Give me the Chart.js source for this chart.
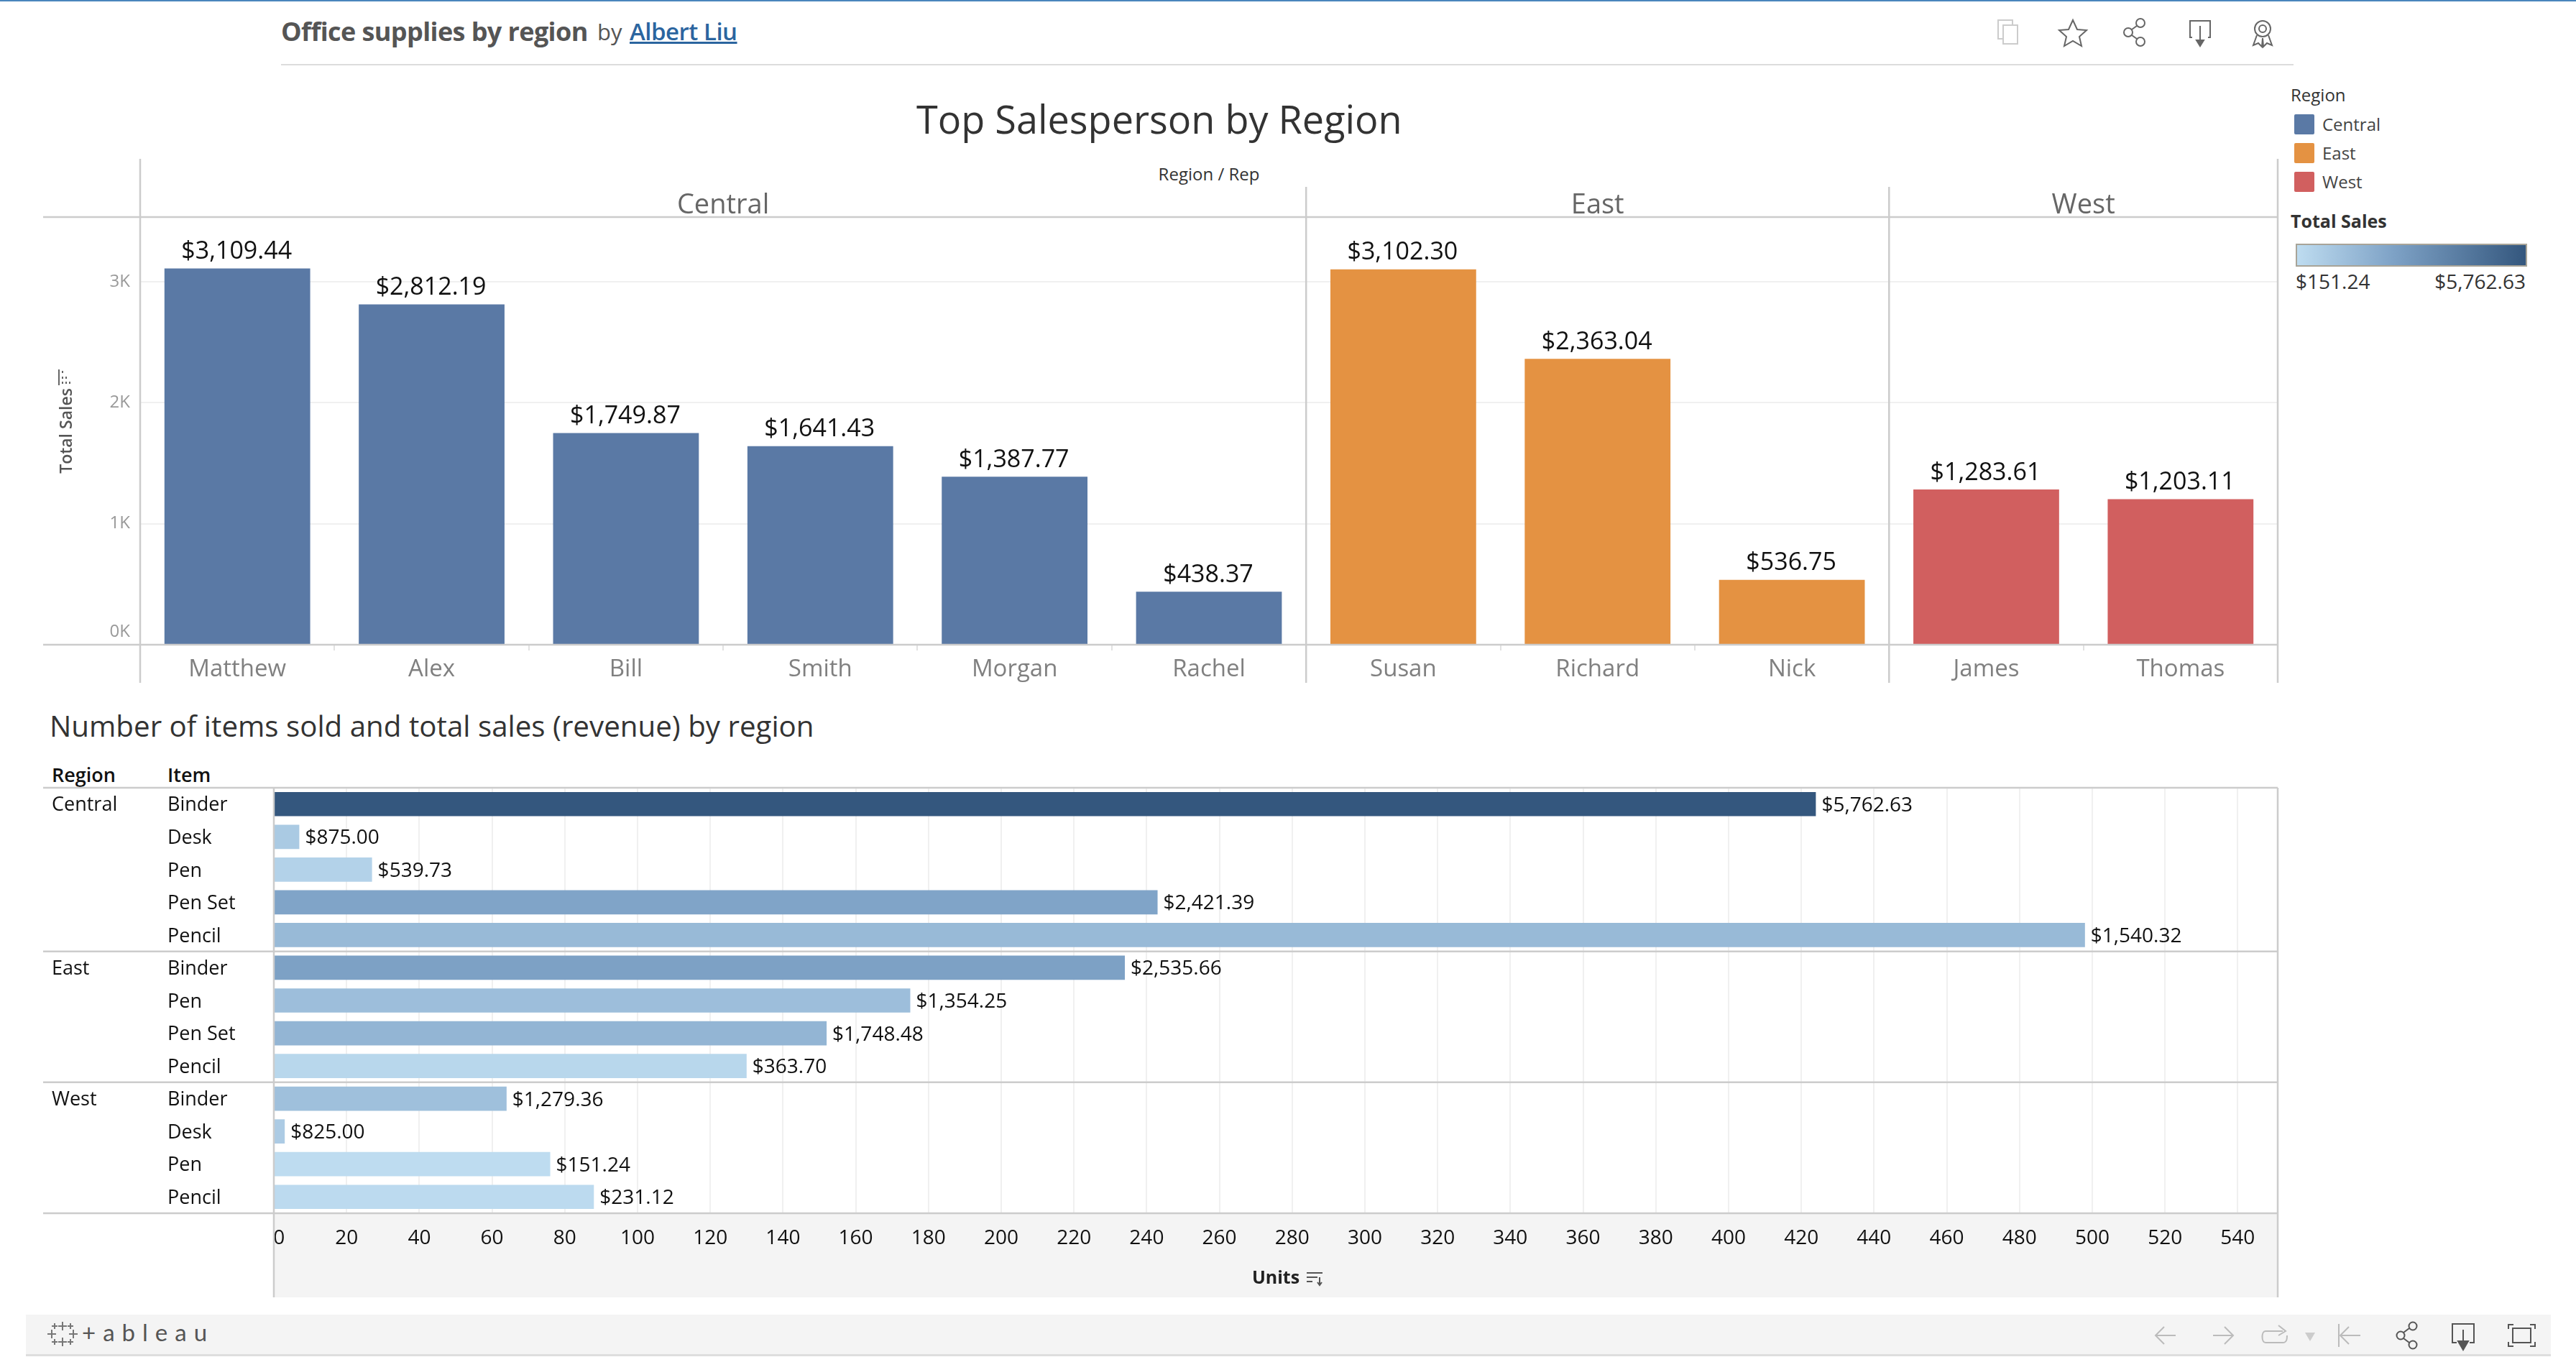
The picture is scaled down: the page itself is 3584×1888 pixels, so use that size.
<!DOCTYPE html>
<html lang="en">
<head>
<meta charset="UTF-8">
<title>Office supplies by region</title>
<script src="https://cdn.jsdelivr.net/npm/chart.js"></script>
<style>
    html, body { margin: 0; padding: 0; background: #fff; }
    body { width: 3584px; height: 1888px; position: relative; overflow: hidden; font-family: "Open Sans", sans-serif; }
    .abs { position: absolute; white-space: nowrap; line-height: 1; }
    canvas { position: absolute; }
    a { color: #2b659f; }
    .swatch { position: absolute; width: 28px; height: 28px; border-radius: 2px; }
    svg { position: absolute; fill: none; }
</style>
</head>
<body>
<div class="abs" style="left:0;top:0;width:3584px;height:2px;background:#4a86bd"></div>
<div class="abs" style="left:391px;top:26px;font-size:36px;color:#555;font-weight:700;letter-spacing:-.6px">Office supplies by region</div>
<div class="abs" style="left:831px;top:29px;font-size:31px;color:#555">by</div>
<div class="abs" style="left:876px;top:27px;font-size:33px;font-weight:600;letter-spacing:-.5px"><a href="#">Albert Liu</a></div>
<div class="abs" style="left:391px;top:89px;width:2800px;height:2px;background:#dcdcdc"></div>

<svg style="left:2770px;top:20px" width="400" height="50" stroke="#666" stroke-width="2">
    <g stroke="#ccc"><rect x="10" y="8" width="20" height="26"/><rect x="17" y="15" width="20" height="26" fill="#fff"/></g>
    <path d="M114 8l6 13 13 1-10 9 3 13-12-7-12 7 3-13-10-9 13-1z"/>
    <g><circle cx="191" cy="25" r="6"/><circle cx="208" cy="12" r="6"/><circle cx="208" cy="38" r="6"/><path d="M196 21l7-5M196 29l7 5"/></g>
    <path d="M280 32h-3V9h28v23h-3M291 16v24"/><path d="M286 36h10l-5 8z" fill="#666"/>
    <g><circle cx="378" cy="20" r="11"/><circle cx="378" cy="20" r="5"/><path d="M370 29l-5 14 7-3 5 5 1-12 1 12 5-5 7 3-5-14"/></g>
</svg>

<div class="abs" style="left:1275px;top:138px;width:675px;text-align:center;font-size:54px;color:#333;font-weight:500">Top Salesperson by Region</div>
<div class="abs" style="left:1582px;top:230px;width:200px;text-align:center;font-size:24px;color:#333;font-weight:500">Region / Rep</div>
<div class="abs" style="left:69px;top:990px;font-size:40.3px;color:#333;font-weight:500">Number of items sold and total sales (revenue) by region</div>
<div class="abs" style="left:72px;top:1064px;font-size:27px;color:#111;font-weight:600">Region</div>
<div class="abs" style="left:233px;top:1064px;font-size:27px;color:#111;font-weight:600">Item</div>

<div id="regionLegend"></div>
<div class="abs" style="left:3187px;top:120px;font-size:24px;color:#333;font-weight:500">Region</div>
<div class="abs" style="left:3187px;top:295px;font-size:25px;color:#333;font-weight:700">Total Sales</div>
<div class="abs" id="rampBox" style="left:3194px;top:339px;width:318px;height:28px;border:2px solid #a8a498"></div>
<div class="abs" id="rampMin" style="left:3194px;top:377px;font-size:28px;color:#333"></div>
<div class="abs" id="rampMax" style="right:70px;top:377px;font-size:28px;color:#333"></div>

<canvas id="salesChart" width="3200" height="745" style="left:0;top:215px"></canvas>
<canvas id="unitsChart" width="3200" height="760" style="left:0;top:1060px"></canvas>

<svg style="left:80px;top:512px" width="24" height="26" stroke="#666" stroke-width="2"><path d="M2 2v22M7 4v3M7 12v3M7 19v3M12 12v3M12 19v3M17 19v3"/></svg>
<svg style="left:1816px;top:1768px" width="28" height="22" stroke="#555" stroke-width="2"><path d="M2 3h22M2 9h15M2 15h8M20 9v10M17 16l3 4 3-4"/></svg>

<div class="abs" style="left:36px;top:1829px;width:3513px;height:55px;background:#f4f4f4;border-bottom:3px solid #dedede"></div>
<svg style="left:66px;top:1835px" width="42" height="42" stroke="#777" stroke-width="2">
    <path d="M21 4v12M15 10h12M21 26v12M15 32h12M6 15v12M0 21h12M36 15v12M30 21h12M10 6v8M6 10h8M32 6v8M28 10h8M10 28v8M6 32h8M32 28v8M28 32h8"/>
</svg>
<div class="abs" style="left:114px;top:1837px;font-size:33px;color:#555;letter-spacing:10px;font-family:Lato,sans-serif">+ableau</div>
<svg style="left:2980px;top:1830px" width="560" height="52" stroke="#bbb" stroke-width="2">
    <path d="M47 28H19M31 16L19 28l12 12M99 28h28M115 16l12 12-12 12M196 22h-24c-6 0-6 16 0 16h24c6 0 6-6 6-10M190 14l10 8-10 6"/>
    <path d="M227 24h14l-7 12z" fill="#ccc" stroke="none"/>
    <path d="M274 12v32M304 28h-28M288 16l-12 12 12 12"/>
    <g stroke="#555"><circle cx="360" cy="28" r="5.5"/><circle cx="377" cy="15" r="5.5"/><circle cx="377" cy="41" r="5.5"/><path d="M364 24l8-6M364 32l8 6"/>
    <path d="M438 38h-6V12h30v26h-6M447 20v20"/><path d="M440 36h14l-7 12z" fill="#555"/>
    <path d="M510 19v-6h7M540 13h7v6M547 37v6h-7M517 43h-7v-6"/><rect x="516" y="18" width="25" height="20"/></g>
</svg>

<script>
    // top chart: best salespeople
    var regions = ['Central', 'East', 'West'];
    var reps = ['Matthew', 'Alex', 'Bill', 'Smith', 'Morgan', 'Rachel', 'Susan', 'Richard', 'Nick', 'James', 'Thomas'];
    var repRegions = ['Central', 'Central', 'Central', 'Central', 'Central', 'Central', 'East', 'East', 'East', 'West', 'West'];
    var repSales = [3109.44, 2812.19, 1749.87, 1641.43, 1387.77, 438.37, 3102.30, 2363.04, 536.75, 1283.61, 1203.11];
    var salesTicks = [0, 1000, 2000, 3000];

    // bottom chart: units per item, the label and colour come from the sales
    var itemRegions = ['Central', 'Central', 'Central', 'Central', 'Central', 'East', 'East', 'East', 'East', 'West', 'West', 'West', 'West'];
    var items = ['Binder', 'Desk', 'Pen', 'Pen Set', 'Pencil', 'Binder', 'Pen', 'Pen Set', 'Pencil', 'Binder', 'Desk', 'Pen', 'Pencil'];
    var itemUnits = [424, 7, 27, 243, 498, 234, 175, 152, 130, 64, 3, 76, 88];
    var itemSales = [5762.63, 875.00, 539.73, 2421.39, 1540.32, 2535.66, 1354.25, 1748.48, 363.70, 1279.36, 825.00, 151.24, 231.12];

    var regionColors = { Central: '#5a79a5', East: '#e49242', West: '#d15f5f' };
    var rampStops = [[0, [190, 220, 240]], [0.42, [126, 162, 198]], [1, [52, 87, 126]]];
    var gridLine = '#f0f0f0';
    var frameLine = '#cccccc';

    function money(v) {
        return '$' + v.toLocaleString('en-US', { minimumFractionDigits: 2, maximumFractionDigits: 2 });
    }

    function rampColor(sales) {
        var lo = Math.min.apply(null, itemSales), hi = Math.max.apply(null, itemSales);
        var t = (sales - lo) / (hi - lo);
        for (var i = 1; i < rampStops.length; i++) {
            if (t <= rampStops[i][0]) {
                var a = rampStops[i - 1], b = rampStops[i];
                var f = (t - a[0]) / (b[0] - a[0]);
                var c = a[1].map(function (x, k) { return Math.round(x + (b[1][k] - x) * f); });
                return 'rgb(' + c.join(',') + ')';
            }
        }
        return 'rgb(' + rampStops[rampStops.length - 1][1].join(',') + ')';
    }

    function hLine(ctx, x1, x2, y, color) {
        ctx.strokeStyle = color; ctx.lineWidth = 2.5;
        ctx.beginPath(); ctx.moveTo(x1, y); ctx.lineTo(x2, y); ctx.stroke();
    }
    function vLine(ctx, x, y1, y2, color) {
        ctx.strokeStyle = color; ctx.lineWidth = 2.5;
        ctx.beginPath(); ctx.moveTo(x, y1); ctx.lineTo(x, y2); ctx.stroke();
    }

    // legend
    var legendBox = document.getElementById('regionLegend');
    regions.forEach(function (r, i) {
        var sw = document.createElement('div');
        sw.className = 'swatch';
        sw.style.cssText = 'left:3192px;top:' + (159 + i * 40) + 'px;background:' + regionColors[r];
        legendBox.appendChild(sw);
        var tx = document.createElement('div');
        tx.className = 'abs';
        tx.style.cssText = 'left:3231px;top:' + (161 + i * 40) + 'px;font-size:24px;color:#444';
        tx.textContent = r;
        legendBox.appendChild(tx);
    });
    document.getElementById('rampBox').style.background = 'linear-gradient(to right,' +
        rampStops.map(function (s) { return 'rgb(' + s[1].join(',') + ') ' + (s[0] * 100) + '%'; }).join(',') + ')';
    document.getElementById('rampMin').textContent = money(Math.min.apply(null, itemSales));
    document.getElementById('rampMax').textContent = money(Math.max.apply(null, itemSales));

    var salesDecor = {
        id: 'salesDecor',
        afterDraw: function (chart) {
            var ctx = chart.ctx, x = chart.scales.x, a = chart.chartArea;
            ctx.save();
            hLine(ctx, 60, a.right, a.top, frameLine);
            hLine(ctx, 60, a.right, a.bottom, frameLine);
            vLine(ctx, a.left, 6, 735, frameLine);
            vLine(ctx, a.right, 6, 735, frameLine);

            // region headers and the separators between them
            ctx.textAlign = 'center';
            ctx.textBaseline = 'middle';
            ctx.font = '500 38px "Open Sans"';
            ctx.fillStyle = '#666';
            var half = (x.getPixelForValue(1) - x.getPixelForValue(0)) / 2;
            regions.forEach(function (r, i) {
                var first = repRegions.indexOf(r), last = repRegions.lastIndexOf(r);
                var left = x.getPixelForValue(first) - half, right = x.getPixelForValue(last) + half;
                ctx.fillText(r, (left + right) / 2, 71);
                if (i > 0) vLine(ctx, left, 45, 735, frameLine);
            });

            // value labels
            ctx.font = '34px "Open Sans"';
            ctx.fillStyle = '#111';
            chart.getDatasetMeta(0).data.forEach(function (bar, i) {
                ctx.fillText(money(repSales[i]), bar.x - 1, bar.y - 23);
            });
            ctx.restore();
        }
    };

    new Chart(document.getElementById('salesChart'), {
        type: 'bar',
        data: {
            labels: reps,
            datasets: [{
                data: repSales,
                backgroundColor: repRegions.map(function (r) { return regionColors[r]; }),
                barPercentage: 0.75,
                categoryPercentage: 1
            }]
        },
        options: {
            responsive: false,
            animation: false,
            layout: { padding: { top: 87, right: 31 } },
            plugins: { legend: { display: false }, tooltip: { enabled: false } },
            scales: {
                x: {
                    border: { display: false },
                    grid: { offset: true, drawOnChartArea: false, tickLength: 8, tickColor: '#e2e2e2', lineWidth: 2 },
                    ticks: { color: '#808080', font: { family: '"Open Sans"', size: 33 }, padding: 7, maxRotation: 0, autoSkip: false },
                    afterFit: function (s) { s.height = 63; }
                },
                y: {
                    min: 0,
                    max: 3534,
                    afterBuildTicks: function (s) { s.ticks = salesTicks.map(function (v) { return { value: v }; }); },
                    border: { display: false },
                    grid: { color: gridLine, lineWidth: 2, drawTicks: false },
                    ticks: {
                        color: '#999',
                        padding: 14,
                        font: function (c) { return { family: '"Open Sans"', size: 24, lineHeight: c.tick && c.tick.value === 0 ? 1.5 : 1.2 }; },
                        // the 0K label sits above the base line
                        callback: function (v) { return v === 0 ? ['0K', ''] : (v / 1000) + 'K'; }
                    },
                    title: { display: true, text: 'Total Sales', color: '#555', font: { family: '"Open Sans"', size: 23, weight: 600 }, padding: { top: 80 } },
                    afterFit: function (s) { s.width = 195; }
                }
            }
        },
        plugins: [salesDecor]
    });

    var unitsDecor = {
        id: 'unitsDecor',
        beforeDraw: function (chart) {
            var ctx = chart.ctx, a = chart.chartArea;
            ctx.fillStyle = '#f4f4f4';
            ctx.fillRect(a.left, a.bottom, a.right - a.left, 117);
        },
        afterDraw: function (chart) {
            var ctx = chart.ctx, y = chart.scales.y, a = chart.chartArea;
            ctx.save();
            hLine(ctx, 60, a.right, a.top, frameLine);
            hLine(ctx, 60, a.right, a.bottom, frameLine);
            vLine(ctx, a.left, a.top, a.bottom + 117, frameLine);
            vLine(ctx, a.right, a.top, a.bottom + 117, frameLine);

            ctx.textBaseline = 'middle';
            ctx.font = '27px "Open Sans"';
            ctx.fillStyle = '#111';
            ctx.textAlign = 'left';
            regions.forEach(function (r, i) {
                var first = itemRegions.indexOf(r);
                ctx.fillText(r, 72, y.getPixelForValue(first) + 2);
                if (i > 0) hLine(ctx, 60, a.right, (y.getPixelForValue(first - 1) + y.getPixelForValue(first)) / 2, frameLine);
            });
            // item names sit a little below the bar centre
            items.forEach(function (name, i) {
                ctx.fillText(name, 233, y.getPixelForValue(i) + 2);
            });

            ctx.font = '28px "Open Sans"';
            chart.getDatasetMeta(0).data.forEach(function (bar, i) {
                ctx.fillText(money(itemSales[i]), bar.x + 8, bar.y + 2);
            });
            ctx.restore();
        }
    };

    new Chart(document.getElementById('unitsChart'), {
        type: 'bar',
        data: {
            labels: items,
            datasets: [{
                data: itemUnits,
                backgroundColor: itemSales.map(rampColor),
                barPercentage: 0.74,
                categoryPercentage: 1
            }]
        },
        options: {
            indexAxis: 'y',
            responsive: false,
            animation: false,
            layout: { padding: { top: 36, right: 31 } },
            plugins: { legend: { display: false }, tooltip: { enabled: false } },
            scales: {
                x: {
                    min: 0,
                    max: 551,
                    border: { display: false },
                    grid: { color: gridLine, lineWidth: 2, drawTicks: false },
                    ticks: {
                        stepSize: 20,
                        includeBounds: false,
                        color: '#111',
                        padding: 18,
                        maxRotation: 0,
                        autoSkip: false,
                        font: { family: '"Open Sans"', size: 28 },
                        // leading spaces keep the 0 right of the axis line
                        callback: function (v) { return v === 0 ? '  0' : v; }
                    },
                    title: { display: true, text: 'Units', color: '#222', font: { family: '"Open Sans"', size: 25, weight: 700 }, padding: { bottom: 26 } },
                    afterFit: function (s) { s.height = 132; }
                },
                y: {
                    border: { display: false },
                    grid: { display: false },
                    ticks: { display: false },
                    afterFit: function (s) { s.width = 381; }
                }
            }
        },
        plugins: [unitsDecor]
    });
</script>
</body>
</html>
